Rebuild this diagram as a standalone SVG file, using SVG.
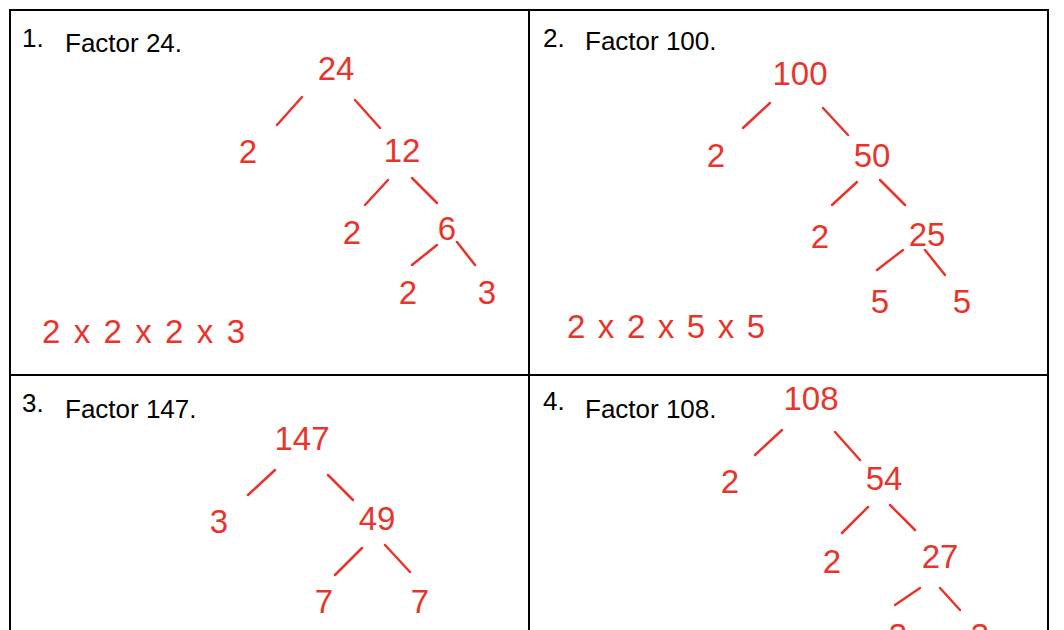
<svg xmlns="http://www.w3.org/2000/svg" width="1064" height="630" viewBox="0 0 1064 630">
<style>
.k{font-family:"Liberation Sans",Arial,sans-serif;font-size:26px;fill:#000}
.r{font-family:"Liberation Sans",Arial,sans-serif;font-size:33px;fill:#e8352b;text-anchor:middle}
.rl{font-family:"Liberation Sans",Arial,sans-serif;font-size:33px;fill:#e8352b}
.e line{stroke:#e8352b;stroke-width:2.5;stroke-linecap:round}
</style>
<rect width="1064" height="630" fill="#fff"/>
<g id="grid" stroke="#000" stroke-width="2" fill="none">
<rect x="10" y="10" width="1038" height="640"/>
<line x1="529" y1="10" x2="529" y2="630"/>
<line x1="10" y1="375" x2="1048" y2="375"/>
</g>
<g id="headings">
<text class="k" x="22" y="47">1.</text><text class="k" x="65" y="52">Factor 24.</text>
<text class="k" x="543" y="47">2.</text><text class="k" x="585" y="50">Factor 100.</text>
<text class="k" x="22" y="412">3.</text><text class="k" x="65" y="418">Factor 147.</text>
<text class="k" x="543" y="410">4.</text><text class="k" x="585" y="418">Factor 108.</text>
</g>
<g id="connectors" class="e">
<line x1="277" y1="125" x2="302" y2="97"/><line x1="355" y1="100" x2="380" y2="128"/>
<line x1="365" y1="205" x2="388" y2="180"/><line x1="412" y1="178" x2="437" y2="203"/>
<line x1="412" y1="265" x2="437" y2="245"/><line x1="457" y1="242" x2="475" y2="265"/>
<line x1="743" y1="128" x2="770" y2="103"/><line x1="823" y1="108" x2="848" y2="135"/>
<line x1="832" y1="205" x2="857" y2="182"/><line x1="880" y1="180" x2="905" y2="205"/>
<line x1="877" y1="270" x2="903" y2="250"/><line x1="925" y1="250" x2="945" y2="275"/>
<line x1="248" y1="495" x2="275" y2="470"/><line x1="328" y1="475" x2="353" y2="500"/>
<line x1="335" y1="575" x2="362" y2="548"/><line x1="385" y1="545" x2="410" y2="572"/>
<line x1="755" y1="455" x2="782" y2="430"/><line x1="835" y1="432" x2="860" y2="460"/>
<line x1="842" y1="533" x2="868" y2="507"/><line x1="890" y1="505" x2="915" y2="530"/>
<line x1="895" y1="605" x2="920" y2="588"/><line x1="940" y1="588" x2="960" y2="610"/>
</g>
<g id="p1">
<text class="r" x="336" y="80">24</text><text class="r" x="248" y="163">2</text><text class="r" x="402" y="162">12</text>
<text class="r" x="352" y="244">2</text><text class="r" x="447" y="240">6</text>
<text class="r" x="408" y="304">2</text><text class="r" x="487" y="304">3</text>
<text class="rl" x="42" y="343" textLength="203">2 x 2 x 2 x 3</text>
</g>
<g id="p2">
<text class="r" x="800" y="85">100</text><text class="r" x="716" y="167">2</text><text class="r" x="872" y="167">50</text>
<text class="r" x="820" y="248">2</text><text class="r" x="927" y="246">25</text>
<text class="r" x="880" y="313">5</text><text class="r" x="962" y="313">5</text>
<text class="rl" x="567" y="338" textLength="198">2 x 2 x 5 x 5</text>
</g>
<g id="p3">
<text class="r" x="302" y="450">147</text><text class="r" x="219" y="533">3</text><text class="r" x="377" y="530">49</text>
<text class="r" x="324" y="613">7</text><text class="r" x="420" y="613">7</text>
</g>
<g id="p4">
<text class="r" x="811" y="410">108</text><text class="r" x="730" y="493">2</text><text class="r" x="884" y="490">54</text>
<text class="r" x="832" y="573">2</text><text class="r" x="940" y="568">27</text>
<text class="r" x="898" y="647">3</text><text class="r" x="980" y="647">3</text>
</g>
</svg>
